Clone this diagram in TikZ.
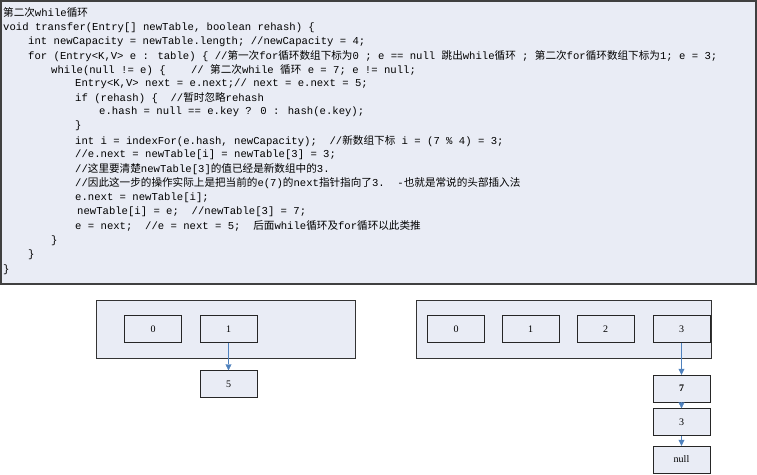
\documentclass[tikz,border=0pt]{standalone}
\usepackage{fontspec}
\setmainfont{Liberation Mono}
\newfontfamily\cjk{Noto Sans CJK SC}
\newfontfamily\serif{Liberation Serif}
\newcommand{\C}[1]{{\cjk #1}}
\usetikzlibrary{arrows.meta}
\definecolor{boxfill}{HTML}{E9ECF5}
\definecolor{arr}{HTML}{4F81BD}
\tikzset{
  cell/.style={draw=black!85, fill=boxfill, minimum width=57pt, minimum height=27pt, inner sep=0pt, font=\serif\fontsize{10}{10}\selectfont},
  outer/.style={draw=black!80, fill=boxfill},
  link/.style={draw=arr, -{Triangle[length=6pt,width=6pt]}},
  codeline/.style={anchor=west, inner sep=0pt, font=\fontsize{10.6}{11}\selectfont}
}
\begin{document}
\begin{tikzpicture}[x=1pt,y=-1pt]
\useasboundingbox (0,0) rectangle (757,474);
\draw[draw=black!75, fill=boxfill, line width=1.2pt] (1,1) rectangle (756,284);
\foreach \y/\x/\t [count=\i] in {
 12/3/{\C{第二次}while\C{循环}},
 28/3/{void transfer(Entry[] newTable, boolean rehash) \{},
 42/28/{int newCapacity = newTable.length; //newCapacity = 4;},
 56/28/{for (Entry<K,V> e : table) \{ //\C{第一次}for\C{循环数组下标为}0 ; e == null \C{跳出}while\C{循环} ; \C{第二次}for\C{循环数组下标为}1; e = 3;},
 70/51/{while(null != e) \{~~~~// \C{第二次}while \C{循环} e = 7; e != null;},
 84/75/{Entry<K,V> next = e.next;// next = e.next = 5;},
 98/75/{if (rehash) \{~~//\C{暂时忽略}rehash},
 112/99/{e.hash = null == e.key ? 0 : hash(e.key);},
 126/75/{\}},
 141/75/{int i = indexFor(e.hash, newCapacity);~~//\C{新数组下标} i = (7 \% 4) = 3;},
 155/75/{//e.next = newTable[i] = newTable[3] = 3;},
 169/75/{//\C{这里要清楚}newTable[3]\C{的值已经是新数组中的}3.},
 183/75/{//\C{因此这一步的操作实际上是把当前的}e(7)\C{的}next\C{指针指向了}3.~~-\C{也就是常说的头部插入法}},
 198/75/{e.next = newTable[i];},
 212/77/{newTable[i] = e;~~//newTable[3] = 7;},
 226/75/{e = next;~~//e = next = 5;~~\C{后面}while\C{循环及}for\C{循环以此类推}},
 241/51/{\}},
 255/28/{\}},
 270/3/{\}}}
 { \node[codeline] (l\i) at (\x,\y) {\t}; }
% left diagram
\draw[outer] (96,300) rectangle (355,358);
\node[cell] (a0) at (153,329) {0};
\node[cell] (a1) at (228.5,329) {1};
\node[cell] (a5) at (228.5,384) {5};
\draw[link] (a1.south) -- (a5.north);
% right diagram
\draw[outer] (416,300) rectangle (711,358);
\node[cell] (b0) at (456,329) {0};
\node[cell] (b1) at (530.5,329) {1};
\node[cell] (b2) at (605.5,329) {2};
\node[cell] (b3) at (681.5,329) {3};
\node[cell, font=\serif\fontsize{10}{10}\selectfont\bfseries] (c7) at (681.5,388.5) {7};
\node[cell] (c3) at (681.5,422) {3};
\node[cell] (cn) at (681.5,459.5) {null};
\draw[link] (b3.south) -- (c7.north);
\draw[link] (c7.south) -- (c3.north);
\draw[link] (c3.south) -- (cn.north);
\end{tikzpicture}
\end{document}
